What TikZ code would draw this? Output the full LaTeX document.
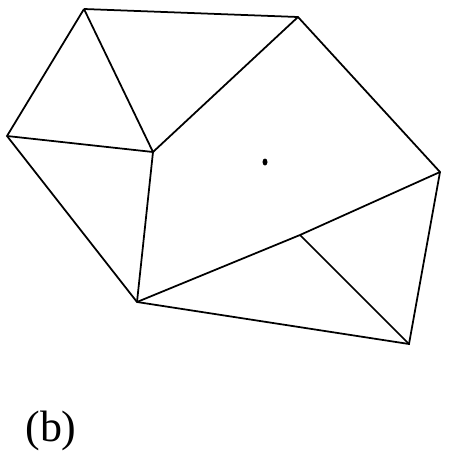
\documentclass[tikz,border=0pt]{standalone}
\usepackage{fontspec}
\setmainfont{Liberation Serif}
\begin{document}
\begin{tikzpicture}[x=0.02cm,y=-0.02cm,edge/.style={line width=1pt}]
      \useasboundingbox (0,0) rectangle (474,474);
      \coordinate (A) at (84,9);
      \coordinate (B) at (298,17);
      \coordinate (C) at (7,136);
      \coordinate (D) at (153,152);
      \coordinate (E) at (440,172);
      \coordinate (F) at (300,235);
      \coordinate (G) at (137,302);
      \coordinate (H) at (409,344);
      \draw [edge] (A) -- (B) -- (E) -- (H) -- (G) -- (C) -- (A);
      \draw [edge] (A) -- (D) -- (B);
      \draw [edge] (C) -- (D) -- (G);
      \draw [edge] (G) -- (F) -- (E);
      \draw [edge] (F) -- (H);
      \fill (265,162) ellipse [x radius=2.5, y radius=3.5];
      \node (lbl) at (51,431) {\fontsize{25}{30}\selectfont (b)};
    \end{tikzpicture}
\end{document}
